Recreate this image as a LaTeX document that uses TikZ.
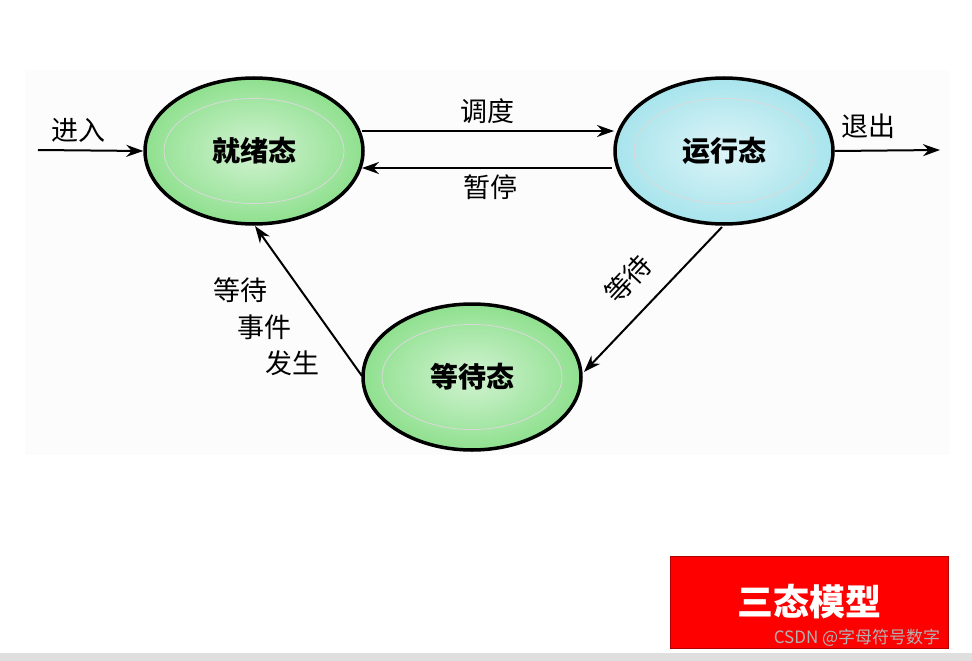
\documentclass[tikz,border=0pt]{standalone}
\usepackage{fontspec}
\setmainfont{Noto Sans CJK SC}
\usetikzlibrary{arrows.meta,shapes.geometric}
\definecolor{gfill}{HTML}{8FE08F}
\definecolor{cfill}{HTML}{A8E4EC}
\tikzset{
 st/.style={ellipse,draw=black,line width=3.5pt,minimum width=218pt,minimum height=146pt,inner color=#1!40!white,outer color=#1},
 inn/.style={ellipse,draw=white!70!gray,line width=0.8pt,minimum width=180pt,minimum height=105pt},
 lab/.style={font=\fontsize{28}{30}\selectfont\bfseries},
 tx/.style={font=\fontsize{27}{29}\selectfont},
 arr/.style={-{Stealth[length=17pt,width=12pt]},line width=2pt}
}
\begin{document}
\begin{tikzpicture}[x=1pt,y=-1pt]
\useasboundingbox (0,0) rectangle (972,661);
\fill[gray!2] (25,70) rectangle (950,455);
\fill[gray!25] (0,653) rectangle (972,661);
\node[st=gfill] (r) at (254,151) {};
\node[inn] at (254,151) {};
\node[lab] (rl) at (254,151) {就绪态};
\node[st=cfill] (u) at (724,151) {};
\node[inn] at (724,151) {};
\node[lab] at (724,151) {运行态};
\node[st=gfill] (w) at (472,377) {};
\node[inn] at (472,377) {};
\node[lab] at (472,377) {等待态};
\coordinate (in) at (38,150);
\coordinate (out) at (940,150);
\draw[arr] (in) -- (r.west);
\node[tx] at (78,130) {进入};
\draw[arr] (u.east) -- (out);
\node[tx] at (868,126) {退出};
\coordinate (a1) at (362,131);
\coordinate (a2) at (614,131);
\draw[arr] (a1) -- (a2);
\node[tx] at (487,111) {调度};
\coordinate (b1) at (612,168);
\coordinate (b2) at (362,168);
\draw[arr] (b1) -- (b2);
\node[tx] at (490,187) {暂停};
\coordinate (c1) at (722,227);
\coordinate (c2) at (584,372);
\draw[arr] (c1) -- (c2);
\node[tx,rotate=47] at (628,279) {等待};
\coordinate (d1) at (362,376);
\coordinate (d2) at (255,226);
\draw[arr] (d1) -- (d2);
\node[tx] at (240,290) {等待};
\node[tx] at (264,327) {事件};
\node[tx] at (292,363) {发生};
\node[fill=red,draw=red!70!black,minimum width=278pt,minimum height=92pt,text=white,font=\fontsize{36}{38}\selectfont\bfseries] (m) at (809,602) {三态模型};
\node[text=gray!60!white,font=\fontsize{17}{18}\selectfont] at (857,638) {CSDN @字母符号数字};
\end{tikzpicture}
\end{document}
